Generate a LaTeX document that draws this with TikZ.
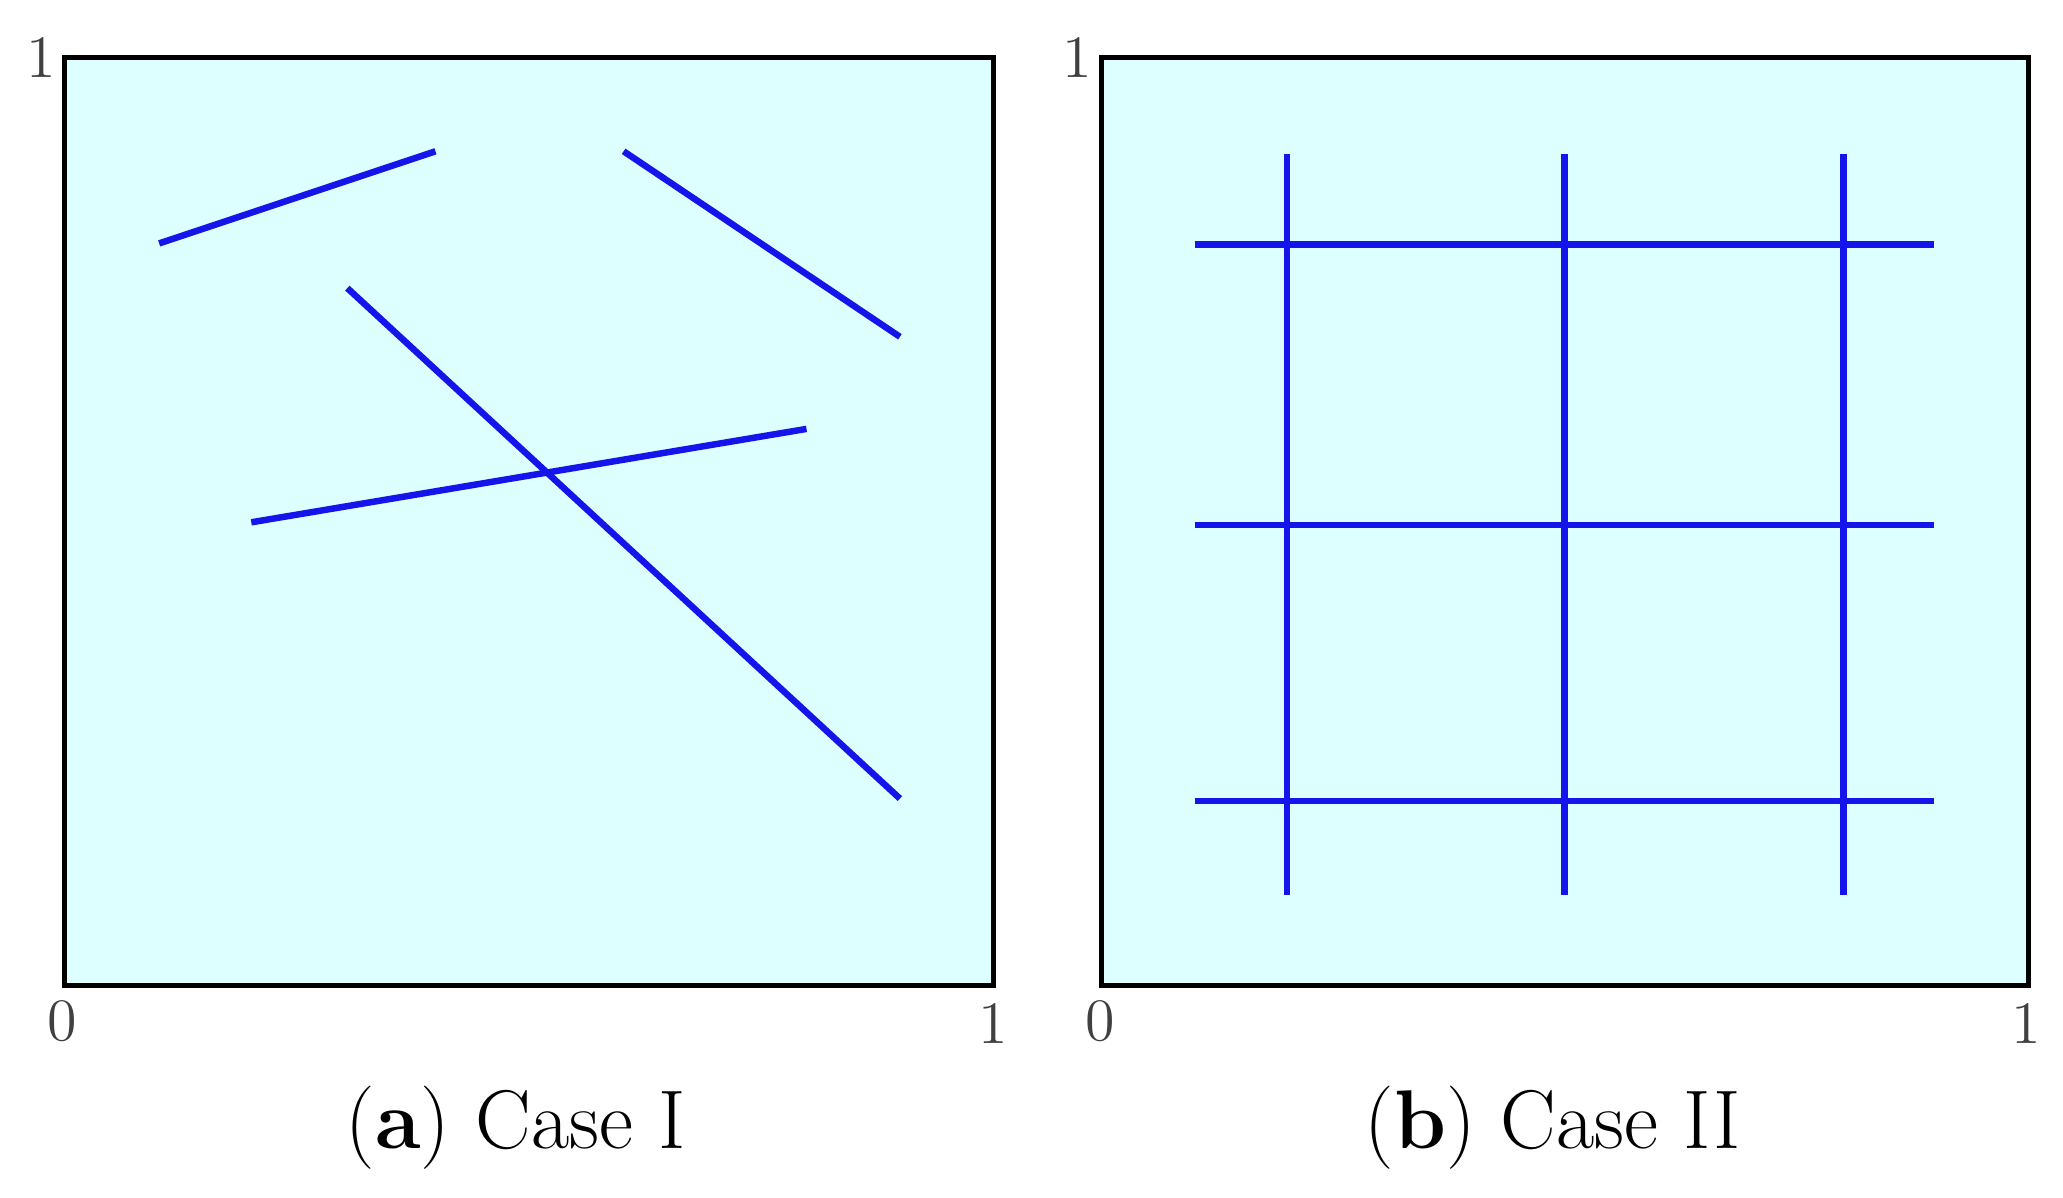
\documentclass[tikz,border=0pt]{standalone}
\begin{document}
\begin{tikzpicture}[x=0.01cm,y=-0.01cm,
  box/.style={draw=black,line width=1.1pt,fill={rgb,255:red,221;green,255;blue,255}},
  seg/.style={draw={rgb,255:red,20;green,20;blue,235},line width=1.4pt},
  num/.style={font=\fontsize{13}{13}\selectfont,text=black!75},
  captext/.style={font=\fontsize{18}{18}\selectfont}]
\useasboundingbox (0,0) rectangle (1568,910);
% left
\path[box] (49,44) rectangle (755,749);
\draw[seg] (121,185) -- (331,115);
\draw[seg] (474,115) -- (684,256);
\draw[seg] (264,219) -- (684,607);
\draw[seg] (191,397) -- (613,326);
\node[num] (la1) at (31,44) {1};
\node[num] (la0) at (47,776) {0};
\node[num] (la2) at (755,778) {1};
\node[captext] (ca) at (392,857) {(\textbf{a}) Case I};
% right
\path[box] (837,44) rectangle (1542,749);
\foreach \x in {978,1189,1401} \draw[seg] (\x,117) -- (\x,680);
\foreach \y in {186,399,609} \draw[seg] (908,\y) -- (1470,\y);
\node[num] (lb1) at (819,44) {1};
\node[num] (lb0) at (836,776) {0};
\node[num] (lb2) at (1540,778) {1};
\node[captext] (cb) at (1180,857) {(\textbf{b}) Case II};
\end{tikzpicture}
\end{document}
